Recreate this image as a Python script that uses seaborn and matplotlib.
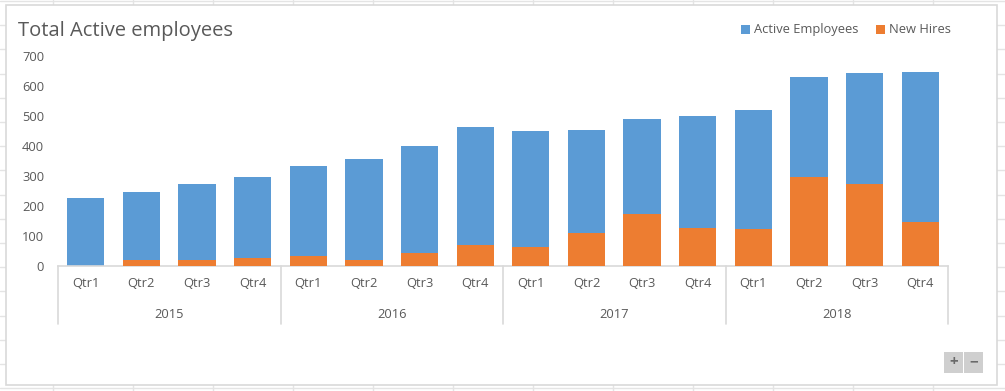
import numpy as np
import pandas as pd
import matplotlib.pyplot as plt
import matplotlib.transforms as mtransforms
from matplotlib.patches import Rectangle
import seaborn as sns

years = ["2015", "2016", "2017", "2018"]
quarters = ["Qtr1", "Qtr2", "Qtr3", "Qtr4"]
active_employees = [228, 248, 274, 298, 334, 357, 401, 464,
                    449, 455, 490, 500, 521, 631, 644, 648]
new_hires = [0, 20, 20, 26, 35, 20, 43, 70,
             63, 110, 175, 128, 124, 296, 275, 148]

blue = "#5b9bd5"
orange = "#ed7d31"
grey_text = "#595959"
line_col = "#d9d9d9"


def main():
    sns.set_style("white")
    plt.rcParams["font.family"] = ["Open Sans", "DejaVu Sans"]

    cats = [f"{y}-{q}" for y in years for q in quarters]
    df = pd.DataFrame({"cat": cats, "Active Employees": active_employees,
                       "New Hires": new_hires})

    fig = plt.figure(figsize=(10.05, 3.91), dpi=100)
    W, H = 1005, 391

    # spreadsheet cells behind the chart box
    for x in range(53, W, 80):
        fig.add_artist(plt.Line2D([x / W, x / W], [0, 1], color="#e4e4e4", lw=1, zorder=-3))
    for y in np.arange(1, H, 24.2):
        fig.add_artist(plt.Line2D([0, 1], [1 - y / H, 1 - y / H], color="#e4e4e4", lw=1, zorder=-3))
    fig.add_artist(Rectangle((6 / W, 1 - 385 / H), (997 - 6) / W, (385 - 5) / H,
                             facecolor="white", edgecolor=line_col, lw=1.2,
                             transform=fig.transFigure, zorder=-2))

    ax = fig.add_axes([58 / W, 1 - 266 / H, (948 - 58) / W, 210 / H])
    ax.patch.set_alpha(0)
    sns.barplot(data=df, x="cat", y="Active Employees", color=blue,
                width=0.67, saturation=1, linewidth=0, ax=ax, zorder=2)
    sns.barplot(data=df, x="cat", y="New Hires", color=orange,
                width=0.67, saturation=1, linewidth=0, ax=ax, zorder=3)

    ax.set_ylim(0, 700)
    ax.set_xlim(-0.5, len(cats) - 0.5)
    ax.set_yticks(range(0, 701, 100))
    ax.tick_params(axis="y", length=0, labelsize=9.3, labelcolor=grey_text, pad=10)
    ax.set_xticks(range(len(cats)))
    ax.set_xticklabels(quarters * len(years))
    ax.tick_params(axis="x", length=0, labelsize=9.3, labelcolor=grey_text, pad=8)
    ax.set_xlabel("")
    ax.set_ylabel("")
    for s in ["top", "right", "left"]:
        ax.spines[s].set_visible(False)
    ax.spines["bottom"].set_color(line_col)
    ax.spines["bottom"].set_linewidth(1.2)

    trans = mtransforms.blended_transform_factory(ax.transData, ax.transAxes)
    n = len(quarters)
    for i in range(len(years) + 1):
        xb = i * n - 0.5
        ax.plot([xb, xb], [0, -58 / 210], color=line_col, lw=1.2,
                transform=trans, clip_on=False)
    for i, yr in enumerate(years):
        ax.text(i * n + (n - 1) / 2, -48 / 210, yr, transform=trans,
                ha="center", va="center", fontsize=9.3, color=grey_text)

    fig.text(18 / W, 1 - 31 / H, "Total Active employees", fontsize=14.5,
             color=grey_text, ha="left", va="center")

    # legend
    for xs, label, col in [(741, "Active Employees", blue), (876, "New Hires", orange)]:
        fig.add_artist(Rectangle((xs / W, 1 - 34 / H), 9 / W, 9 / H, facecolor=col,
                                 edgecolor="none", transform=fig.transFigure))
        fig.text((xs + 13) / W, 1 - 29.5 / H, label, fontsize=9.3, color=grey_text,
                 ha="left", va="center")

    # zoom buttons
    for xs, sym in [(944, "+"), (964, "\u2212")]:
        fig.add_artist(Rectangle((xs / W, 1 - 373 / H), 19 / W, 21 / H,
                                 facecolor="#cfcfcf", edgecolor="none",
                                 transform=fig.transFigure))
        fig.text((xs + 9.5) / W, 1 - 362.5 / H, sym, fontsize=11, color="#6a6a6a",
                 ha="center", va="center", fontweight="bold")

    fig.savefig("out.png", dpi=100)


if __name__ == "__main__":
    main()
